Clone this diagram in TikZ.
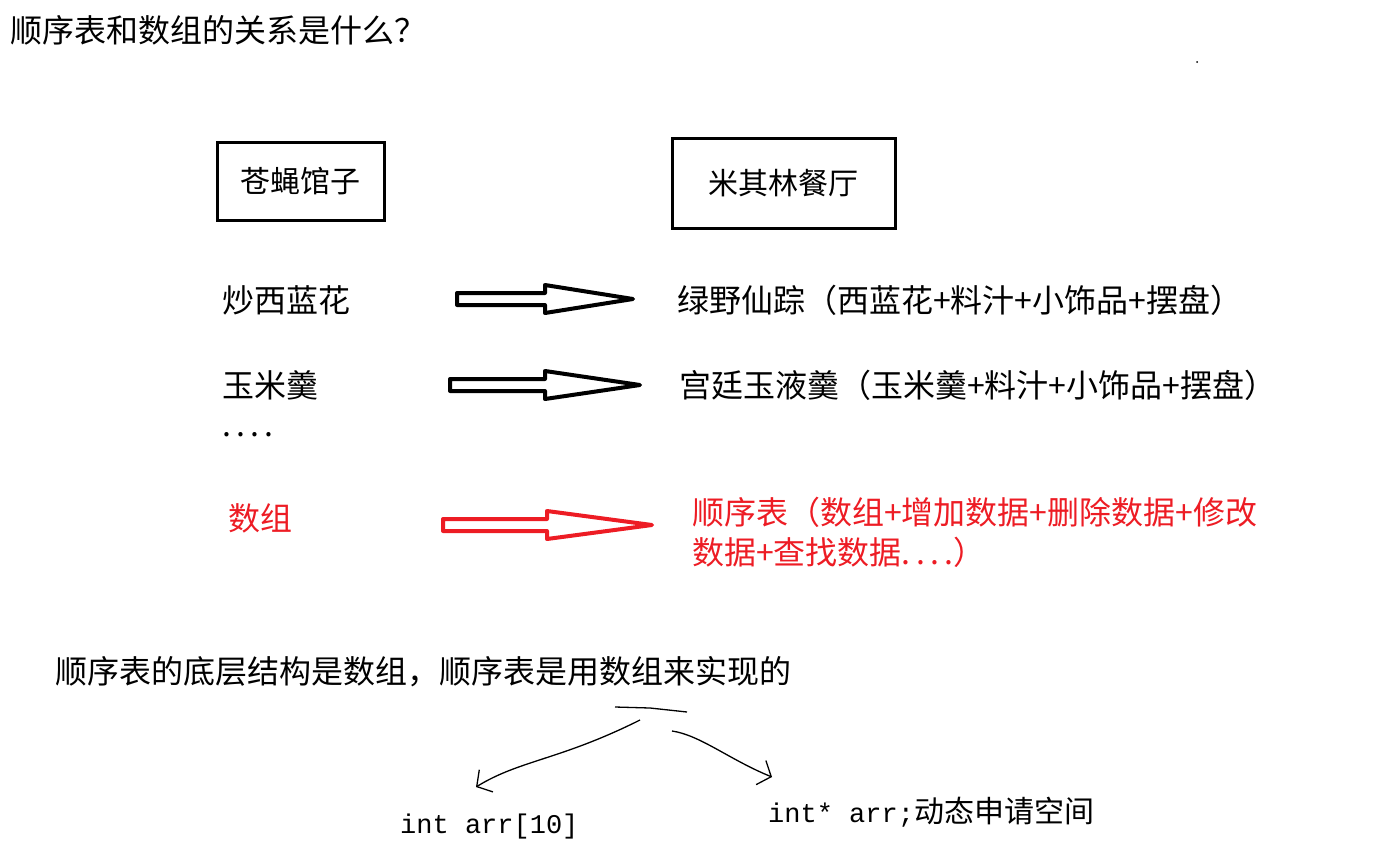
\documentclass[tikz,border=0pt]{standalone}
\usepackage{fontspec}
\newfontfamily\cjk{Noto Sans CJK SC}
\setmonofont{Liberation Mono}
\usetikzlibrary{arrows.meta}
\definecolor{paintred}{RGB}{237,28,36}

\tikzstyle{txt} = [anchor=west, inner sep=0pt, font=\cjk\fontsize{32}{40}\selectfont]
\tikzstyle{redtxt} = [txt, text=paintred]
\tikzstyle{dish} = [draw, line width=3pt, minimum height=78pt, inner sep=0pt, font=\cjk\fontsize{30}{36}\selectfont]
\tikzstyle{code} = [anchor=west, inner sep=0pt, font=\ttfamily\fontsize{27}{32}\selectfont]
\tikzstyle{hand} = [draw, line width=1.3pt, -{Straight Barb[length=11pt,width=26pt]}]

% block arrow: tail x, center y, head x, tip x, colour
\newcommand{\blockarrow}[5]{
  \draw[#5, line width=4pt, line join=round]
    (#1,#2-6) -- (#3,#2-6) -- (#3,#2-14) -- (#4,#2) -- (#3,#2+14) -- (#3,#2+6) -- (#1,#2+6) -- cycle;
}

\begin{document}
\begin{tikzpicture}[x=1pt, y=-1pt]
\useasboundingbox (0,0) rectangle (1400,857);
% titulo
\node [txt] (title) at (10,30) {顺序表和数组的关系是什么？};
\fill (1197,62) circle (1pt);
% caixas
\node [dish, minimum width=167pt] (fly) at (300.5,181) {苍蝇馆子};
\node [dish, minimum width=223pt, minimum height=90pt] (michelin) at (783.5,183) {米其林餐厅};
% linhas
\node [txt] (broc) at (222,300) {炒西蓝花};
\node [txt] (corn) at (222,385) {玉米羹};
\node [txt] (dots) at (222,435) {.\,.\,.\,.};
\node [redtxt] (arr) at (228,518) {数组};
\node [txt] (lvye) at (677,300) {绿野仙踪（西蓝花+料汁+小饰品+摆盘）};
\node [txt] (gong) at (679,385) {宫廷玉液羹（玉米羹+料汁+小饰品+摆盘）};
\node [redtxt, align=left, anchor=north west] (seq) at (692,497) {顺序表（数组+增加数据+删除数据+修改\\数据+查找数据.\,.\,.\,.）};
% setas
\blockarrow{457}{299}{545}{633}{black}
\blockarrow{450}{385}{545}{640}{black}
\blockarrow{443}{525}{547}{652}{paintred}
% base
\node [txt] (base) at (55,672) {顺序表的底层结构是数组，顺序表是用数组来实现的};
\node [code] (static) at (400,827) {int arr[10]};
\node [code] (dyn) at (768,812) {int* arr;{\cjk\fontsize{30}{36}\selectfont 动态申请空间}};
\coordinate (split) at (650,710);
\coordinate (tipL) at (476,787);
\coordinate (tipR) at (772,777);
\draw [line width=1.3pt] (615,707) -- (650,708) -- (687,712);
\path [hand] (640,720) .. controls (560,760) and (520,760) .. (tipL);
\path [hand] (672,731) .. controls (700,735) and (730,760) .. (tipR);
\end{tikzpicture}
\end{document}
